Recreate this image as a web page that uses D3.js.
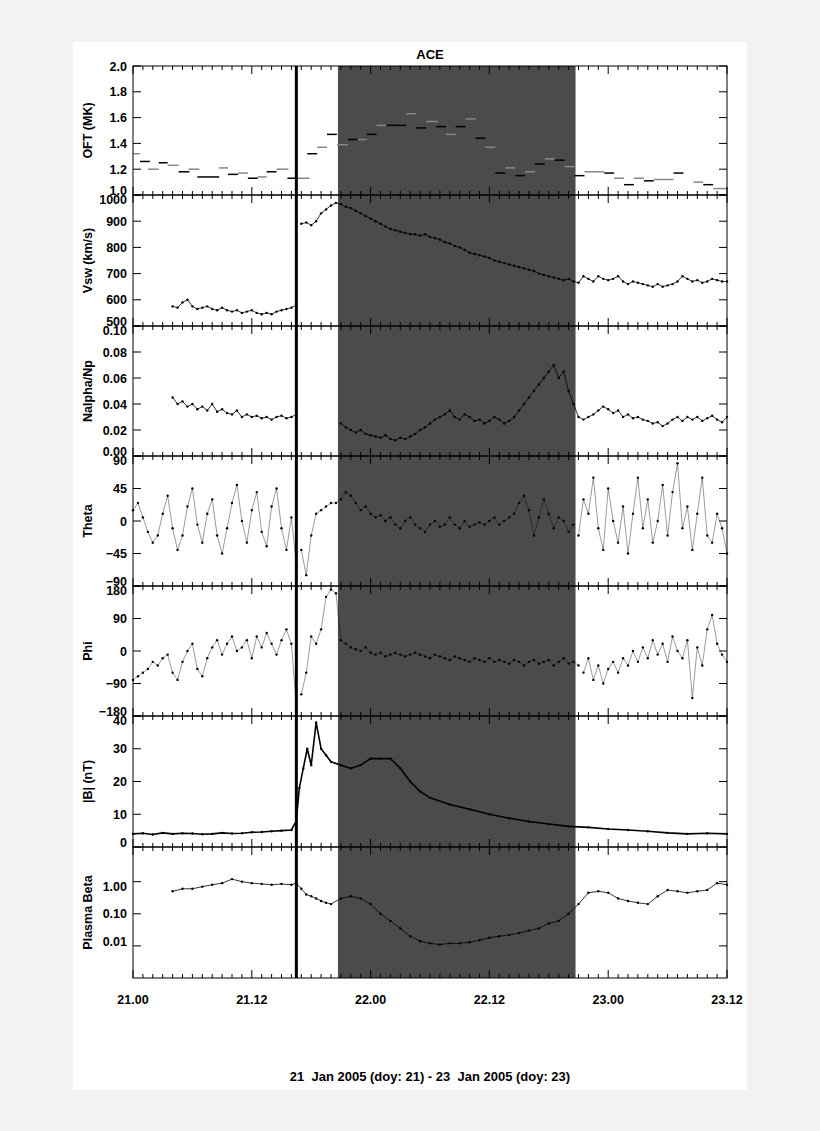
<!DOCTYPE html>
<html><head><meta charset="utf-8">
<script src="https://cdn.jsdelivr.net/npm/d3@7"></script>
<style>body{margin:0;background:#f2f2f2;}svg text{font-family:"Liberation Sans",Arial,sans-serif;}</style>
</head><body>
<svg width="820" height="1131"></svg>
<script>
// hours since 21 Jan 00:00
const shockHour = 16.5;
const cloudStart = 20.7, cloudEnd = 44.7;
const xTickLabels = ["21.00", "21.12", "22.00", "22.12", "23.00", "23.12"];

const oftStart = [0,0.7,1.5,2.6,3.5,4.6,5.6,6.5,8.7,9.6,10.6,11.6,12.6,13.5,14.5,15.6,16.6,17.6,18.6,19.6,20.6,21.7,22.7,23.6,24.6,25.6,27.6,28.6,29.6,30.6,31.6,32.6,33.6,34.6,35.6,36.6,37.6,38.6,39.6,40.6,41.6,42.6,43.6,44.6,45.6,47.6,48.6,49.6,50.6,51.6,52.6,54.6,56.6,57.6,58.6];
const oftEnd = [0.7,1.7,2.6,3.5,4.6,5.7,6.7,8.7,9.6,10.6,11.6,12.6,13.5,14.5,15.7,16.6,17.8,18.6,19.6,20.6,21.7,22.7,23.6,24.6,25.6,27.6,28.6,29.6,30.8,31.6,32.6,33.6,34.6,35.6,36.6,37.6,38.6,39.6,40.6,41.6,42.6,43.6,44.6,45.6,47.6,48.6,49.6,50.6,51.6,52.6,54.6,55.6,57.6,58.6,60];
const oftVal = [1.32,1.26,1.20,1.25,1.23,1.18,1.20,1.14,1.21,1.16,1.17,1.13,1.14,1.18,1.20,1.13,1.13,1.32,1.37,1.47,1.39,1.43,1.43,1.47,1.54,1.54,1.63,1.52,1.57,1.53,1.47,1.53,1.59,1.44,1.37,1.17,1.21,1.15,1.18,1.24,1.28,1.27,1.22,1.15,1.18,1.17,1.13,1.08,1.13,1.11,1.12,1.17,1.10,1.08,1.05];

const vswA = [575,570,590,600,575,565,570,575,565,560,570,560,555,560,550,555,560,550,545,550,545,555,560,565,570,580]; // from 4h, 0.5h
const vswB = [890,895,885,900,930,945,960,970,965,955,950,940,930,920,910,900,890,880,870,865,860,855,850,850,845,850,840,835,830,820,815,805,800,790,780,775,770,765,760,750,745,740,735,730,725,720,715,710,700,695,690,685,680,675,680,670,665,690,680,670,690,680,675,680,690,670,660,670,665,660,655,650,660,650,655,660,670,690,680,670,675,665,670,680,675,670,670]; // from 17h

const naA = [.045,.04,.042,.038,.04,.036,.038,.035,.04,.034,.036,.033,.032,.035,.03,.032,.03,.031,.029,.03,.028,.03,.031,.029,.03,.032]; // from 4h
const naB = [.025,.022,.02,.018,.02,.017,.016,.015,.014,.016,.013,.012,.014,.013,.015,.017,.02,.022,.025,.028,.03,.032,.035,.03,.028,.032,.03,.027,.028,.025,.027,.03,.028,.025,.027,.03,.035,.04,.045,.05,.055,.06,.065,.07,.06,.065,.05,.04,.03,.028,.03,.032,.035,.038,.036,.033,.035,.03,.032,.029,.03,.028,.027,.025,.026,.023,.025,.028,.03,.027,.03,.028,.03,.027,.029,.031,.028,.026,.03]; // from 21h

const thetaA = [15,25,5,-15,-30,-20,10,35,-10,-40,-20,20,45,-5,-30,10,30,-20,-45,-10,25,50,0,-30,15,40,-15,-35,20,45,-10,-40,5,-60]; // from 0h
const thetaB = [-40,-75,-20,10,15,20,25,25,30,40,35,25,15,20,10,5,8,0,5,-5,-10,0,5,-5,-10,-15,-5,0,-8,-5,5,-5,-10,0,-8,-5,-2,-5,0,5,-5,0,5,10,25,35,15,-20,5,30,10,-10,5,0,-15,-5]; // from 17h
const thetaC = [-20,30,10,60,-10,-40,45,0,-30,20,-45,10,60,-10,30,-30,0,50,-20,40,80,-10,20,-40,10,60,-20,-30,10,-10,-45]; // from 45h

const phiA = [-80,-70,-60,-50,-30,-40,-20,-10,-60,-80,-30,0,20,-50,-70,-20,10,30,-10,20,40,0,10,30,-20,40,10,50,20,-10,30,60,20,-150]; // from 0h
const phiB = [-120,-60,40,20,60,150,170,160,30,20,10,5,0,10,-5,-10,-5,-15,-10,-5,-10,-15,-10,-5,-10,-15,-20,-10,-15,-20,-25,-15,-20,-25,-30,-20,-25,-30,-20,-30,-25,-30,-35,-25,-30,-40,-30,-25,-35,-30,-25,-40,-30,-20,-35,-30,-40]; // from 17h
const phiC = [-60,-20,-80,-40,-90,-50,-30,-60,-20,-40,0,-30,10,-20,30,-10,20,-30,40,0,-20,30,-130,10,-40,60,100,20,-10,-30]; // from 45.5h

const bTime = [0,1,2,3,4,5,6,7,8,9,10,11,12,13,14,15,16,16.5,16.8,17.2,17.6,18,18.5,19,19.5,20,21,22,23,24,25,26,27,28,29,30,32,34,36,38,40,42,44,46,48,50,52,54,56,58,60];
const bVal = [4,4.2,3.8,4.3,4,4.2,4.1,3.9,4,4.3,4.1,4.2,4.5,4.6,4.8,5,5.2,8,18,24,30,25,38,30,28,26,25,24,25,27,27,27,24,20,17,15,13,11.5,10,8.8,7.8,7,6.3,6,5.5,5.2,4.8,4.3,4,4.2,4];

const betaTime = [4,5,6,7,8,9,10,11,12,13,14,15,16,16.5,17,17.5,18,18.5,19,19.5,20,21,22,23,24,25,26,27,28,29,30,31,32,33,34,35,36,37,38,39,40,41,42,43,44,45,46,47,48,49,50,51,52,53,54,55,56,57,58,59,60];
const betaVal = [0.5,0.6,0.6,0.7,0.8,0.9,1.2,1.0,0.9,0.85,0.8,0.85,0.8,0.9,0.6,0.4,0.35,0.3,0.25,0.22,0.2,0.3,0.35,0.3,0.2,0.1,0.06,0.035,0.02,0.014,0.012,0.011,0.012,0.012,0.013,0.015,0.018,0.02,0.022,0.025,0.03,0.035,0.05,0.06,0.1,0.2,0.45,0.5,0.45,0.3,0.25,0.22,0.2,0.35,0.55,0.5,0.45,0.5,0.55,0.9,0.8];

function series(start, step, vals) { return vals.map((v, i) => [start + i * step, v]); }

const svg = d3.select("svg");
svg.append("rect").attr("x", 73).attr("y", 42).attr("width", 674).attr("height", 1048).attr("fill", "#fff");

const x = d3.scaleLinear().domain([0, 60]).range([133, 727]);
const tops = [66, 195, 326, 456, 586, 716, 847, 978];

const panels = [
  { label: "OFT (MK)", dom: [1.0, 2.0], ticks: [1.0,1.2,1.4,1.6,1.8,2.0], fmt: d3.format(".1f") },
  { label: "Vsw (km/s)", dom: [500, 1000], ticks: [500,600,700,800,900,1000], fmt: d3.format("d"), data: [series(4, 0.5, vswA), series(17, 0.5, vswB)] },
  { label: "Nalpha/Np", dom: [0, 0.1], ticks: [0,.02,.04,.06,.08,.1], fmt: d3.format(".2f"), data: [series(4, 0.5, naA), series(21, 0.5, naB)] },
  { label: "Theta", dom: [-90, 90], ticks: [-90,-45,0,45,90], fmt: d3.format("d"), data: [series(0, 0.5, thetaA), series(17, 0.5, thetaB), series(45, 0.5, thetaC)] },
  { label: "Phi", dom: [-180, 180], ticks: [-180,-90,0,90,180], fmt: d3.format("d"), data: [series(0, 0.5, phiA), series(17, 0.5, phiB), series(45.5, 0.5, phiC)] },
  { label: "|B| (nT)", dom: [0, 40], ticks: [0,10,20,30,40], fmt: d3.format("d"), data: [bTime.map((t, i) => [t, bVal[i]])] },
  { label: "Plasma Beta", dom: [0.001, 12], log: true, ticks: [0.01,0.1,1], fmt: d3.format(".2f"), data: [betaTime.map((t, i) => [t, betaVal[i]])] }
];

// magnetic cloud shading
svg.append("rect").attr("x", x(cloudStart)).attr("y", tops[0])
  .attr("width", x(cloudEnd) - x(cloudStart)).attr("height", tops[7] - tops[0]).attr("fill", "#4b4b4b");

panels.forEach((p, k) => {
  const y0 = tops[k], y1 = tops[k + 1];
  const y = (p.log ? d3.scaleLog() : d3.scaleLinear()).domain(p.dom).range([y1, y0]);
  const g = svg.append("g");

  if (k === 0) {
    g.selectAll("line.oft").data(oftVal).join("line")
      .attr("x1", (d, i) => x(oftStart[i])).attr("x2", (d, i) => x(oftEnd[i]))
      .attr("y1", d => y(d)).attr("y2", d => y(d))
      .attr("stroke", (d, i) => i % 2 ? "#000" : "#888").attr("stroke-width", 1.5);
  } else {
    const line = d3.line().x(d => x(d[0])).y(d => y(d[1]));
    const noisy = k === 3 || k === 4;
    p.data.forEach(s => {
      g.append("path").datum(s).attr("d", line).attr("fill", "none")
        .attr("stroke", "#000").attr("stroke-width", k === 5 ? 1.6 : noisy ? 0.4 : 0.8);
      g.selectAll(null).data(s).join("circle")
        .attr("cx", d => x(d[0])).attr("cy", d => y(d[1])).attr("r", 1.2).attr("fill", "#000");
    });
  }

  // frame
  g.append("rect").attr("x", 133).attr("y", y0).attr("width", 594).attr("height", y1 - y0)
    .attr("fill", "none").attr("stroke", "#000").attr("stroke-width", 1);

  // time ticks top/bottom
  d3.range(0, 61, 1).forEach(h => {
    const len = h % 12 === 0 ? 8 : 4;
    g.append("line").attr("x1", x(h)).attr("x2", x(h)).attr("y1", y1).attr("y2", y1 - len).attr("stroke", "#000");
    g.append("line").attr("x1", x(h)).attr("x2", x(h)).attr("y1", y0).attr("y2", y0 + len).attr("stroke", "#000");
  });

  // y axis ticks both sides; edge labels nudged inward like the original
  p.ticks.forEach((t, i) => {
    let dy = 4.5;
    if (i === 0) dy = 0;
    if (i === p.ticks.length - 1 && k > 0) dy = 9;
    g.append("line").attr("x1", 133).attr("x2", 141).attr("y1", y(t)).attr("y2", y(t)).attr("stroke", "#000");
    g.append("line").attr("x1", 719).attr("x2", 727).attr("y1", y(t)).attr("y2", y(t)).attr("stroke", "#000");
    g.append("text").attr("x", 127).attr("y", y(t) + dy).attr("text-anchor", "end")
      .attr("font-size", 12.5).attr("font-weight", 600).text(p.fmt(t));
  });

  g.append("text").attr("transform", `translate(92,${(y0 + y1) / 2}) rotate(-90)`)
    .attr("text-anchor", "middle").attr("font-size", 12.5).attr("font-weight", 600).text(p.label);
});

// shock line
svg.append("line").attr("x1", x(shockHour)).attr("x2", x(shockHour)).attr("y1", tops[0]).attr("y2", tops[7])
  .attr("stroke", "#000").attr("stroke-width", 3);

xTickLabels.forEach((l, i) => {
  svg.append("text").attr("x", x(i * 12)).attr("y", 1004).attr("text-anchor", "middle")
    .attr("font-size", 12.5).attr("font-weight", 600).text(l);
});

svg.append("text").attr("x", 430).attr("y", 59).attr("text-anchor", "middle")
  .attr("font-size", 13).attr("font-weight", 600).text("ACE");
svg.append("text").attr("x", 430).attr("y", 1081).attr("text-anchor", "middle")
  .attr("font-size", 13).attr("font-weight", 600).attr("xml:space", "preserve")
  .text("21  Jan 2005 (doy: 21) - 23  Jan 2005 (doy: 23)");
</script>
</body></html>
